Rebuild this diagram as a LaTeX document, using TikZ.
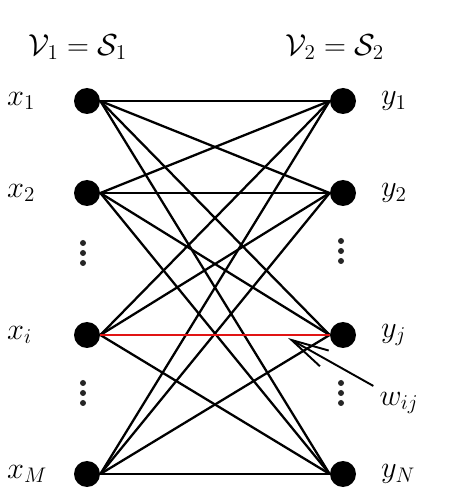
\documentclass[tikz,border=0pt]{standalone}
\usepackage{amsmath,amssymb}
\usetikzlibrary{arrows.meta, positioning}
\definecolor{edgered}{RGB}{225, 20, 20}

\begin{document}
\begin{tikzpicture}[
        vertex/.style={circle, fill=black, inner sep=0pt, minimum size=0.52cm},
        lbl/.style={font=\LARGE},
        edge/.style={line width=1.3pt},
        vdot/.style={circle, fill=black!85, inner sep=0pt, minimum size=0.12cm},
        arr/.style={-{Straight Barb[length=7.5mm, width=3.6mm]}, line width=1.1pt}
    ]
        \useasboundingbox (0,0) rectangle (9.48,9.98);
        % Titres des deux parties
        \node[lbl] (v1) at (1.56,9.04) {$\mathcal{V}_1=\mathcal{S}_1$};
        \node[lbl] (v2) at (6.70,9.04) {$\mathcal{V}_2=\mathcal{S}_2$};

        % Partie gauche
        \node[vertex] (x1) at (1.74,7.96) {};
        \node[vertex] (x2) at (1.74,6.12) {};
        \node[vertex] (xi) at (1.74,3.28) {};
        \node[vertex] (xM) at (1.74,0.50) {};
        \node[lbl, anchor=west] (lx1) at (0.02,0 |- x1) {$x_1$};
        \node[lbl, anchor=west] (lx2) at (0.02,0 |- x2) {$x_2$};
        \node[lbl, anchor=west] (lxi) at (0.02,0 |- xi) {$x_i$};
        \node[lbl, anchor=west] (lxM) at (0.02,0 |- xM) {$x_M$};

        % Partie droite
        \node[vertex] (y1) at (6.86,7.96) {};
        \node[vertex] (y2) at (6.86,6.12) {};
        \node[vertex] (yj) at (6.86,3.28) {};
        \node[vertex] (yN) at (6.86,0.50) {};
        \node[lbl, anchor=west] (ly1) at (7.50,0 |- y1) {$y_1$};
        \node[lbl, anchor=west] (ly2) at (7.50,0 |- y2) {$y_2$};
        \node[lbl, anchor=west] (lyj) at (7.50,0 |- yj) {$y_j$};
        \node[lbl, anchor=west] (lyN) at (7.50,0 |- yN) {$y_N$};

        % Points de suspension
        \foreach \px/\py in {1.66/5.12, 1.66/2.32, 6.82/5.16, 6.82/2.32} {
            \foreach \k in {0,1,2}
                \node[vdot] at (\px,\py-0.2*\k) {};
        }

        % Aretes
        \foreach \a in {x1,x2,xi,xM} {
            \foreach \b in {y1,y2,yj,yN}
                \draw[edge] (\a.east) -- (\b.west);
        }
        \draw[edge, edgered, line width=1.1pt] (xi.east) -- (yj.west);

        % Poids
        \node[lbl] (wij) at (7.98,1.92) {$w_{ij}$};
        \coordinate (tip) at (5.76,3.22);
        \draw[arr] (wij.north west) -- (tip);
    \end{tikzpicture}
\end{document}
